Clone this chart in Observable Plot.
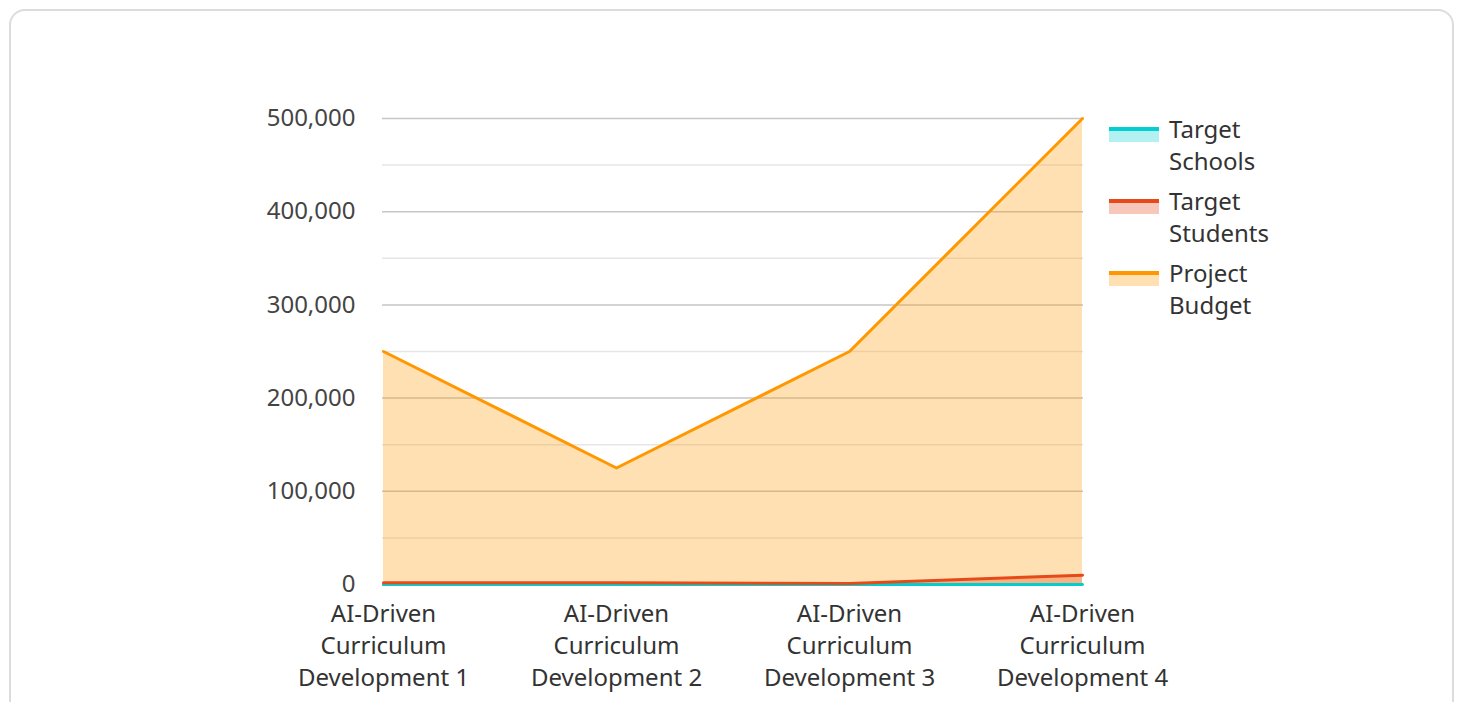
<!DOCTYPE html>
<html>
<head>
<meta charset="utf-8">
<script src="https://cdn.jsdelivr.net/npm/d3@7"></script>
<script src="https://cdn.jsdelivr.net/npm/@observablehq/plot@0.6"></script>
<style>
  html, body { margin: 0; padding: 0; background: #fff; width: 1460px; height: 702px; overflow: hidden; font-family: "Noto Sans", sans-serif; }
  #card { position: absolute; left: 9px; top: 9px; width: 1445px; height: 720px; border: 2px solid #dcdcdc; border-radius: 16px; box-sizing: border-box; }
  #chart { position: absolute; left: 0; top: 0; }
  #legend { position: absolute; left: 1109px; top: 113px; font-size: 24px; color: #333; }
  .item { display: flex; align-items: flex-start; height: 72px; }
  .sw { width: 50px; margin-top: 14px; margin-right: 10px; box-sizing: border-box; height: 15px; }
  .lbl { line-height: 31.5px; }
</style>
</head>
<body>
<div id="card"></div>
<div id="chart"></div>
<div id="legend"></div>
<script>
const categories = [
  "AI-Driven Curriculum Development 1",
  "AI-Driven Curriculum Development 2",
  "AI-Driven Curriculum Development 3",
  "AI-Driven Curriculum Development 4"
];
const categoryLines = [
  ["AI-Driven", "Curriculum", "Development 1"],
  ["AI-Driven", "Curriculum", "Development 2"],
  ["AI-Driven", "Curriculum", "Development 3"],
  ["AI-Driven", "Curriculum", "Development 4"]
];
const targetSchools = [20, 20, 10, 50];
const targetStudents = [2000, 2000, 1000, 10000];
const projectBudget = [250000, 125000, 250000, 500000];
const seriesNames = ["Target Schools", "Target Students", "Project Budget"];
const seriesLegendLines = [["Target", "Schools"], ["Target", "Students"], ["Project", "Budget"]];
const seriesColors = ["#00CED1", "#E64A19", "#FF9800"];
const yTicksMajor = [0, 100000, 200000, 300000, 400000, 500000];
const yTicksMinor = [50000, 150000, 250000, 350000, 450000];

const seriesValues = [targetSchools, targetStudents, projectBudget];
const data = [];
seriesValues.forEach((vals, s) => vals.forEach((v, i) => data.push({series: seriesNames[s], cat: categories[i], value: v})));

const marks = [
  Plot.gridY(yTicksMinor, {stroke: "#e6e6e6", strokeOpacity: 1, strokeWidth: 1.5}),
  Plot.gridY(yTicksMajor.slice(1), {stroke: "#c6c6c6", strokeOpacity: 1, strokeWidth: 1.5}),
];
[2, 1, 0].forEach(s => {
  marks.push(Plot.areaY(data.filter(d => d.series === seriesNames[s]), {x: "cat", y: "value", fill: seriesColors[s], fillOpacity: 0.3}));
});
marks.push(Plot.ruleY([0], {stroke: "#444", strokeWidth: 1.5}));
[0, 1, 2].forEach(s => {
  marks.push(Plot.lineY(data.filter(d => d.series === seriesNames[s]), {x: "cat", y: "value", stroke: seriesColors[s], strokeWidth: 3}));
});
marks.push(Plot.axisY(yTicksMajor, {tickSize: 0, tickPadding: 27, tickFormat: d3.format(","), fontSize: 24, fill: "#444", label: null}));
marks.push(Plot.axisX({tickSize: 0, tickPadding: 15, tickFormat: d => categoryLines[categories.indexOf(d)].join("\n"), fontSize: 24, fill: "#333", lineHeight: 1.333, label: null}));

const chart = Plot.plot({
  width: 1460,
  height: 702,
  marginLeft: 382,
  marginRight: 377,
  marginTop: 118,
  marginBottom: 118,
  style: {fontFamily: "Noto Sans, sans-serif", background: "transparent", overflow: "visible"},
  x: {type: "point", domain: categories, padding: 0},
  y: {domain: [0, 500000]},
  marks
});
document.getElementById("chart").appendChild(chart);

const legend = document.getElementById("legend");
seriesNames.forEach((name, s) => {
  const item = document.createElement("div");
  item.className = "item";
  const sw = document.createElement("div");
  sw.className = "sw";
  sw.style.borderTop = `4px solid ${seriesColors[s]}`;
  const c = d3.color(seriesColors[s]); c.opacity = 0.3;
  sw.style.background = c.formatRgb();
  const lbl = document.createElement("div");
  lbl.className = "lbl";
  lbl.innerHTML = seriesLegendLines[s].join("<br>");
  item.appendChild(sw); item.appendChild(lbl);
  legend.appendChild(item);
});
</script>
</body>
</html>
